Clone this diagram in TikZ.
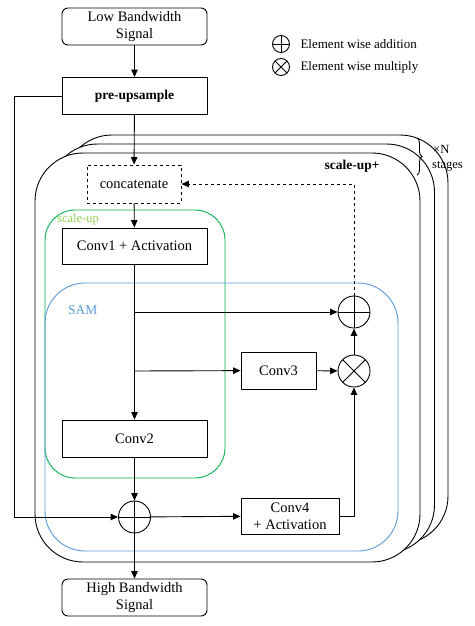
\documentclass[tikz,border=0pt]{standalone}
\usepackage{fontspec}
\setmainfont{Liberation Serif}
\usetikzlibrary{calc,arrows.meta,decorations.pathreplacing}
\definecolor{samblue}{RGB}{91,155,213}
\definecolor{upgreen}{RGB}{0,176,80}
\definecolor{uplabel}{RGB}{146,208,80}
\tikzset{
	blk/.style={draw, line width=0.9pt, minimum width=145pt, minimum height=37pt, align=center, inner sep=2pt, font=\fontsize{14.5}{17}\selectfont},
	op/.style={circle, draw, line width=0.9pt, minimum size=32pt, inner sep=0pt},
	opadd/.style={op, path picture={\draw[line width=0.9pt] (path picture bounding box.north) -- (path picture bounding box.south) (path picture bounding box.west) -- (path picture bounding box.east);}},
	opmul/.style={op, path picture={\draw[line width=0.9pt] (path picture bounding box.north west) -- (path picture bounding box.south east) (path picture bounding box.north east) -- (path picture bounding box.south west);}},
	arr/.style={-{Triangle[length=7.5pt,width=6.5pt]}, line width=0.9pt},
	stage/.style={draw, line width=0.9pt, fill=white, rounded corners=48pt}
}
\begin{document}
\begin{tikzpicture}[x=1pt,y=-1pt]
	\useasboundingbox (0,0) rectangle (474,626);
	\draw[stage] (64,135) rectangle (448,544);
	\draw[stage] (49.5,144) rectangle (434.5,553);
	\draw[stage] (35,153) rectangle (420,562);
	\draw[upgreen, line width=0.9pt, rounded corners=30pt] (45,210) rectangle (225,478);
	\draw[samblue, line width=0.9pt, rounded corners=40pt] (45,283) rectangle (398,551);
	\draw[decorate, decoration={brace, amplitude=5pt}, line width=0.9pt] (417,138) -- (417,175);
	\node[font=\fontsize{13.5}{15}\selectfont\bfseries] (stagelbl) at (352,166) {scale-up+};
	\node[anchor=west, inner sep=0pt, font=\fontsize{12.5}{14}\selectfont] (nlbl) at (433,149) {×N};
	\node[anchor=west, inner sep=0pt, font=\fontsize{12.5}{14}\selectfont] (stlbl) at (432,166) {stages};
	\node[anchor=west, inner sep=0pt, text=uplabel, font=\fontsize{12.5}{14}\selectfont] (uplbl) at (57,219) {scale-up};
	\node[anchor=west, inner sep=0pt, text=samblue, font=\fontsize{13.5}{15}\selectfont] (samlbl) at (68,310) {SAM};
	% legend
	\node[opadd, minimum size=17pt] (addkey) at (281,44) {};
	\node[opmul, minimum size=17pt] (mulkey) at (281,67) {};
	\node[anchor=west, font=\fontsize{13}{15}\selectfont] (addtxt) at ($(addkey)+(16,0)$) {Element wise addition};
	\node[anchor=west, font=\fontsize{13}{15}\selectfont] (multxt) at ($(mulkey)+(16,0)$) {Element wise multiply};

	\node[blk, rounded corners=6pt] (low) at (134.5,26.5) {Low Bandwidth\\Signal};
	\node[blk, font=\fontsize{13.5}{16}\selectfont\bfseries] (pre) at (134.5,96) {pre-upsample};
	\node[blk, dashed, minimum width=94pt, minimum height=38pt] (concat) at (134,184) {concatenate};
	\node[blk, minimum height=36pt] (conv1) at (134.5,246) {Conv1 + Activation};
	\node[blk] (conv2) at (134.5,438.5) {Conv2};
	\node[blk, minimum width=75pt] (conv3) at (278.5,370.5) {Conv3};
	\node[blk, minimum width=98pt, minimum height=36pt] (conv4) at (290,516) {Conv4\\+ Activation};
	\node[blk, rounded corners=6pt] (high) at (134.5,597.5) {High Bandwidth\\Signal};
	\node[opadd] (addsam) at (354,312) {};
	\node[opmul] (mulsam) at (354,371) {};
	\node[opadd] (addout) at (134.5,517) {};

	\draw[arr] (low) -- (pre);
	\draw[arr] (pre) -- (concat);
	\draw[arr] (concat) -- (conv1);
	\draw[arr] (conv1) -- (conv2);
	\coordinate (tapa) at (conv1.south |- addsam);
	\coordinate (tapb) at (conv1.south |- mulsam);
	\draw[arr] (tapa) -- (addsam);
	\draw[arr] (tapb) -- (conv3);
	\draw[arr] (conv3) -- (mulsam);
	\draw[arr] (mulsam) -- (addsam);
	\draw[arr, dashed] (addsam) |- (concat);
	\draw[arr] (conv2) -- (addout);
	\draw[arr] (pre.west) -- ++(-47,0) |- (addout);
	\draw[arr] (addout) -- (conv4);
	\draw[arr] (conv4.east) -| (mulsam);
	\draw[arr] (addout) -- (high);
\end{tikzpicture}
\end{document}
